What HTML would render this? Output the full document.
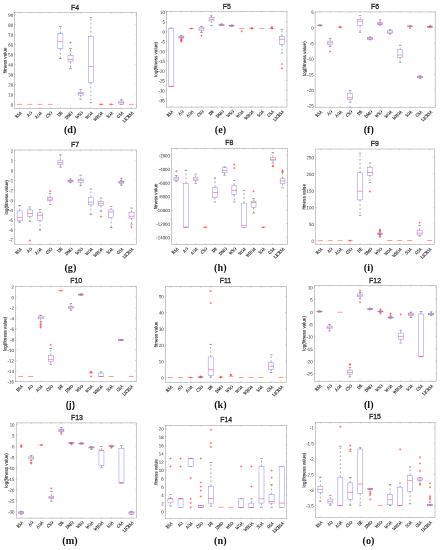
<!DOCTYPE html>
<html><head><meta charset="utf-8"><title>Boxplots F4-F15</title><style>
html,body{margin:0;padding:0;background:#fff;overflow:hidden;}
svg{display:block;}
.ax{fill:none;stroke:#a5a5a5;stroke-width:0.6;}
.tk{fill:none;stroke:#a5a5a5;stroke-width:0.5;}
.yt{font-family:"Liberation Sans",sans-serif;font-size:4.7px;text-anchor:end;fill:#262626;}
.xt{font-family:"Liberation Serif",serif;font-size:4.6px;text-anchor:end;fill:#222;stroke:#222;stroke-width:0.14px;}
.ti{font-family:"Liberation Sans",sans-serif;font-size:8.0px;text-anchor:middle;fill:#2a2a2a;stroke:#2a2a2a;stroke-width:0.32px;}
.yl{font-family:"Liberation Sans",sans-serif;font-size:4.6px;text-anchor:middle;fill:#222;stroke:#222;stroke-width:0.1px;}
.cap{font-family:"Liberation Serif",serif;font-size:10.2px;font-weight:bold;text-anchor:middle;fill:#111;}
.capsans{font-family:"Liberation Sans",sans-serif;font-size:9px;letter-spacing:0.4px;}
.bx{fill:none;stroke:#9595ff;stroke-width:0.55;}
.bxc{stroke:#8080ff;stroke-width:0.6;}
.md{fill:none;stroke:#ff5a50;stroke-width:0.6;}
.wk{fill:none;stroke:#5a5a5a;stroke-width:0.5;stroke-dasharray:2 2;}
.cp{fill:none;stroke:#4a4a4a;stroke-width:0.5;}
.ol{fill:none;stroke:#ff3030;stroke-width:0.5;}
</style></head>
<body><svg width="440" height="550" viewBox="0 0 440 550">
<rect x="14.6" y="12.5" width="122.00" height="95.90" class="ax"/>
<path d="M19.68 108.4v-1.1M19.68 12.5v1.1M29.85 108.4v-1.1M29.85 12.5v1.1M40.02 108.4v-1.1M40.02 12.5v1.1M50.18 108.4v-1.1M50.18 12.5v1.1M60.35 108.4v-1.1M60.35 12.5v1.1M70.52 108.4v-1.1M70.52 12.5v1.1M80.68 108.4v-1.1M80.68 12.5v1.1M90.85 108.4v-1.1M90.85 12.5v1.1M101.02 108.4v-1.1M101.02 12.5v1.1M111.18 108.4v-1.1M111.18 12.5v1.1M121.35 108.4v-1.1M121.35 12.5v1.1M131.52 108.4v-1.1M131.52 12.5v1.1M14.6 104.40h1.1M136.6 104.40h-1.1M14.6 94.42h1.1M136.6 94.42h-1.1M14.6 84.44h1.1M136.6 84.44h-1.1M14.6 74.47h1.1M136.6 74.47h-1.1M14.6 64.49h1.1M136.6 64.49h-1.1M14.6 54.51h1.1M136.6 54.51h-1.1M14.6 44.53h1.1M136.6 44.53h-1.1M14.6 34.56h1.1M136.6 34.56h-1.1M14.6 24.58h1.1M136.6 24.58h-1.1M14.6 14.60h1.1M136.6 14.60h-1.1" class="tk"/>
<g transform="translate(13.20,0) scale(0.93,1) rotate(0.05)">
<text y="106.50" class="yt">0</text>
<text y="96.52" class="yt">10</text>
<text y="86.54" class="yt">20</text>
<text y="76.57" class="yt">30</text>
<text y="66.59" class="yt">40</text>
<text y="56.61" class="yt">50</text>
<text y="46.63" class="yt">60</text>
<text y="36.66" class="yt">70</text>
<text y="26.68" class="yt">80</text>
<text y="16.70" class="yt">90</text>
</g>
<text transform="translate(22.18,113.10) rotate(-45) scale(0.83,1)" class="xt">RSA</text>
<text transform="translate(32.35,113.10) rotate(-45) scale(0.83,1)" class="xt">AO</text>
<text transform="translate(42.52,113.10) rotate(-45) scale(0.83,1)" class="xt">AOA</text>
<text transform="translate(52.68,113.10) rotate(-45) scale(0.83,1)" class="xt">CSO</text>
<text transform="translate(62.85,113.10) rotate(-45) scale(0.83,1)" class="xt">DE</text>
<text transform="translate(73.02,113.10) rotate(-45) scale(0.83,1)" class="xt">DMO</text>
<text transform="translate(83.18,113.10) rotate(-45) scale(0.83,1)" class="xt">WSO</text>
<text transform="translate(93.35,113.10) rotate(-45) scale(0.83,1)" class="xt">WOA</text>
<text transform="translate(103.52,113.10) rotate(-45) scale(0.83,1)" class="xt">WHOA</text>
<text transform="translate(113.68,113.10) rotate(-45) scale(0.83,1)" class="xt">SOA</text>
<text transform="translate(123.85,113.10) rotate(-45) scale(0.83,1)" class="xt">GSA</text>
<text transform="translate(134.02,113.10) rotate(-45) scale(0.83,1)" class="xt">LICRSA</text>
<path d="M17.14 104.40h5.08" class="md"/>
<path d="M27.31 104.40h5.08" class="md"/>
<path d="M37.48 104.40h5.08" class="md"/>
<path d="M47.64 104.40h5.08" class="md"/>
<path d="M60.35 33.56V26.57M60.35 48.52V58.50" class="wk"/>
<path d="M59.08 26.57h2.54M59.08 58.50h2.54" class="cp"/>
<rect x="57.81" y="33.56" width="5.08" height="14.97" class="bx"/>
<path d="M57.81 41.54h5.08" class="md"/>
<path d="M70.52 55.51V48.52M70.52 61.50V68.48" class="wk"/>
<path d="M69.25 48.52h2.54M69.25 68.48h2.54" class="cp"/>
<rect x="67.97" y="55.51" width="5.08" height="5.99" class="bx"/>
<path d="M67.97 59.50h5.08" class="md"/>
<path d="M69.42 42.54h2.2M70.52 41.44v2.2" class="ol"/>
<path d="M80.68 92.43V89.43M80.68 95.12V99.11" class="wk"/>
<path d="M79.41 89.43h2.54M79.41 99.11h2.54" class="cp"/>
<rect x="78.14" y="92.43" width="5.08" height="2.69" class="bx"/>
<path d="M78.14 93.62h5.08" class="md"/>
<path d="M90.85 36.55V17.59M90.85 82.45V102.70" class="wk"/>
<path d="M89.58 17.59h2.54M89.58 102.70h2.54" class="cp"/>
<rect x="88.31" y="36.55" width="5.08" height="45.90" class="bx"/>
<path d="M88.31 66.48h5.08" class="md"/>
<path d="M98.47 104.40h5.08" class="md"/>
<path d="M99.92 104.40h2.2M101.02 103.30v2.2" class="ol"/>
<path d="M108.64 104.40h5.08" class="md"/>
<path d="M110.08 104.40h2.2M111.18 103.30v2.2" class="ol"/>
<path d="M121.35 101.01V99.81M121.35 104.10V104.40" class="wk"/>
<path d="M120.08 99.81h2.54M120.08 104.40h2.54" class="cp"/>
<rect x="118.81" y="101.01" width="5.08" height="3.09" class="bx"/>
<path d="M118.81 102.50h5.08" class="md"/>
<path d="M128.97 104.40h5.08" class="md"/>
<text transform="translate(75.10,9.80) scale(0.87,1)" class="ti">F4</text>
<text transform="translate(6.50,60.45) rotate(-89.95)" class="yl">fitness value</text>
<text x="70.20" y="133.20" class="cap">(d)</text>
<rect x="166.25" y="11.5" width="120.75" height="95.60" class="ax"/>
<path d="M171.28 107.1v-1.1M171.28 11.5v1.1M181.34 107.1v-1.1M181.34 11.5v1.1M191.41 107.1v-1.1M191.41 11.5v1.1M201.47 107.1v-1.1M201.47 11.5v1.1M211.53 107.1v-1.1M211.53 11.5v1.1M221.59 107.1v-1.1M221.59 11.5v1.1M231.66 107.1v-1.1M231.66 11.5v1.1M241.72 107.1v-1.1M241.72 11.5v1.1M251.78 107.1v-1.1M251.78 11.5v1.1M261.84 107.1v-1.1M261.84 11.5v1.1M271.91 107.1v-1.1M271.91 11.5v1.1M281.97 107.1v-1.1M281.97 11.5v1.1M166.25 100.10h1.1M287.0 100.10h-1.1M166.25 90.30h1.1M287.0 90.30h-1.1M166.25 80.50h1.1M287.0 80.50h-1.1M166.25 70.70h1.1M287.0 70.70h-1.1M166.25 60.90h1.1M287.0 60.90h-1.1M166.25 51.10h1.1M287.0 51.10h-1.1M166.25 41.30h1.1M287.0 41.30h-1.1M166.25 31.50h1.1M287.0 31.50h-1.1M166.25 21.70h1.1M287.0 21.70h-1.1M166.25 11.90h1.1M287.0 11.90h-1.1" class="tk"/>
<g transform="translate(164.85,0) scale(0.93,1) rotate(0.05)">
<text y="102.20" class="yt">-35</text>
<text y="92.40" class="yt">-30</text>
<text y="82.60" class="yt">-25</text>
<text y="72.80" class="yt">-20</text>
<text y="63.00" class="yt">-15</text>
<text y="53.20" class="yt">-10</text>
<text y="43.40" class="yt">-5</text>
<text y="33.60" class="yt">0</text>
<text y="23.80" class="yt">5</text>
<text y="14.00" class="yt">10</text>
</g>
<text transform="translate(173.78,111.80) rotate(-45) scale(0.83,1)" class="xt">RSA</text>
<text transform="translate(183.84,111.80) rotate(-45) scale(0.83,1)" class="xt">AO</text>
<text transform="translate(193.91,111.80) rotate(-45) scale(0.83,1)" class="xt">AOA</text>
<text transform="translate(203.97,111.80) rotate(-45) scale(0.83,1)" class="xt">CSO</text>
<text transform="translate(214.03,111.80) rotate(-45) scale(0.83,1)" class="xt">DE</text>
<text transform="translate(224.09,111.80) rotate(-45) scale(0.83,1)" class="xt">DMO</text>
<text transform="translate(234.16,111.80) rotate(-45) scale(0.83,1)" class="xt">WSO</text>
<text transform="translate(244.22,111.80) rotate(-45) scale(0.83,1)" class="xt">WOA</text>
<text transform="translate(254.28,111.80) rotate(-45) scale(0.83,1)" class="xt">WHOA</text>
<text transform="translate(264.34,111.80) rotate(-45) scale(0.83,1)" class="xt">SOA</text>
<text transform="translate(274.41,111.80) rotate(-45) scale(0.83,1)" class="xt">GSA</text>
<text transform="translate(284.47,111.80) rotate(-45) scale(0.83,1)" class="xt">LICRSA</text>
<path d="M170.02 28.17h2.52M170.02 86.38h2.52" class="cp"/>
<rect x="168.77" y="28.17" width="5.03" height="58.21" class="bx"/>
<path d="M168.77 86.38h5.03" class="md"/>
<path d="M181.34 36.20V35.42" class="wk"/>
<path d="M180.09 35.42h2.52M180.09 37.97h2.52" class="cp"/>
<rect x="178.83" y="36.20" width="5.03" height="1.76" class="bx bxc"/>
<path d="M178.83 37.18h5.03" class="md"/>
<path d="M180.24 39.14h2.2M181.34 38.04v2.2M180.24 39.93h2.2M181.34 38.83v2.2M180.24 40.71h2.2M181.34 39.61v2.2M180.24 41.50h2.2M181.34 40.40v2.2" class="ol"/>
<path d="M188.89 28.56h5.03" class="md"/>
<path d="M190.31 28.56h2.2M191.41 27.46v2.2" class="ol"/>
<path d="M201.47 27.19V26.60M201.47 30.62V32.48" class="wk"/>
<path d="M200.21 26.60h2.52M200.21 32.48h2.52" class="cp"/>
<rect x="198.95" y="27.19" width="5.03" height="3.43" class="bx"/>
<path d="M198.95 28.95h5.03" class="md"/>
<path d="M200.37 35.62h2.2M201.47 34.52v2.2" class="ol"/>
<path d="M211.53 17.58V15.82M211.53 20.92V25.62" class="wk"/>
<path d="M210.27 15.82h2.52M210.27 25.62h2.52" class="cp"/>
<rect x="209.02" y="17.58" width="5.03" height="3.33" class="bx"/>
<path d="M209.02 19.35h5.03" class="md"/>
<path d="M221.59 24.25V23.95M221.59 25.33V25.62" class="wk"/>
<path d="M220.34 23.95h2.52M220.34 25.62h2.52" class="cp"/>
<rect x="219.08" y="24.25" width="5.03" height="1.08" class="bx bxc"/>
<path d="M219.08 24.84h5.03" class="md"/>
<path d="M231.66 25.23V24.93M231.66 26.01V26.31" class="wk"/>
<path d="M230.40 24.93h2.52M230.40 26.31h2.52" class="cp"/>
<rect x="229.14" y="25.23" width="5.03" height="0.78" class="bx bxc"/>
<path d="M229.14 25.62h5.03" class="md"/>
<path d="M239.20 28.56h5.03" class="md"/>
<path d="M240.62 31.30h2.2M241.72 30.20v2.2" class="ol"/>
<path d="M249.27 28.56h5.03" class="md"/>
<path d="M250.68 28.56h2.2M251.78 27.46v2.2M250.68 27.97h2.2M251.78 26.87v2.2" class="ol"/>
<path d="M259.33 28.56h5.03" class="md"/>
<path d="M269.39 28.56h5.03" class="md"/>
<path d="M270.81 28.36h2.2M271.91 27.26v2.2M270.81 27.78h2.2M271.91 26.68v2.2M270.81 27.19h2.2M271.91 26.09v2.2" class="ol"/>
<path d="M281.97 36.50V29.34M281.97 44.63V53.06" class="wk"/>
<path d="M280.71 29.34h2.52M280.71 53.06h2.52" class="cp"/>
<rect x="279.45" y="36.50" width="5.03" height="8.13" class="bx"/>
<path d="M279.45 39.34h5.03" class="md"/>
<path d="M280.87 64.04h2.2M281.97 62.94v2.2M280.87 68.35h2.2M281.97 67.25v2.2" class="ol"/>
<text transform="translate(226.70,8.70) scale(0.87,1)" class="ti">F5</text>
<text transform="translate(157.20,59.30) rotate(-89.95)" class="yl">log(fitness value)</text>
<text x="220.45" y="133.20" class="cap">(e)</text>
<rect x="315.1" y="11.9" width="120.10" height="95.35" class="ax"/>
<path d="M320.10 107.25v-1.1M320.10 11.9v1.1M330.11 107.25v-1.1M330.11 11.9v1.1M340.12 107.25v-1.1M340.12 11.9v1.1M350.13 107.25v-1.1M350.13 11.9v1.1M360.14 107.25v-1.1M360.14 11.9v1.1M370.15 107.25v-1.1M370.15 11.9v1.1M380.15 107.25v-1.1M380.15 11.9v1.1M390.16 107.25v-1.1M390.16 11.9v1.1M400.17 107.25v-1.1M400.17 11.9v1.1M410.18 107.25v-1.1M410.18 11.9v1.1M420.19 107.25v-1.1M420.19 11.9v1.1M430.20 107.25v-1.1M430.20 11.9v1.1M315.1 105.50h1.1M435.2 105.50h-1.1M315.1 89.90h1.1M435.2 89.90h-1.1M315.1 74.30h1.1M435.2 74.30h-1.1M315.1 58.70h1.1M435.2 58.70h-1.1M315.1 43.10h1.1M435.2 43.10h-1.1M315.1 27.50h1.1M435.2 27.50h-1.1M315.1 11.90h1.1M435.2 11.90h-1.1" class="tk"/>
<g transform="translate(313.70,0) scale(0.93,1) rotate(0.05)">
<text y="107.60" class="yt">-25</text>
<text y="92.00" class="yt">-20</text>
<text y="76.40" class="yt">-15</text>
<text y="60.80" class="yt">-10</text>
<text y="45.20" class="yt">-5</text>
<text y="29.60" class="yt">0</text>
<text y="14.00" class="yt">5</text>
</g>
<text transform="translate(322.60,111.95) rotate(-45) scale(0.83,1)" class="xt">RSA</text>
<text transform="translate(332.61,111.95) rotate(-45) scale(0.83,1)" class="xt">AO</text>
<text transform="translate(342.62,111.95) rotate(-45) scale(0.83,1)" class="xt">AOA</text>
<text transform="translate(352.63,111.95) rotate(-45) scale(0.83,1)" class="xt">CSO</text>
<text transform="translate(362.64,111.95) rotate(-45) scale(0.83,1)" class="xt">DE</text>
<text transform="translate(372.65,111.95) rotate(-45) scale(0.83,1)" class="xt">DMO</text>
<text transform="translate(382.65,111.95) rotate(-45) scale(0.83,1)" class="xt">WSO</text>
<text transform="translate(392.66,111.95) rotate(-45) scale(0.83,1)" class="xt">WOA</text>
<text transform="translate(402.67,111.95) rotate(-45) scale(0.83,1)" class="xt">WHOA</text>
<text transform="translate(412.68,111.95) rotate(-45) scale(0.83,1)" class="xt">SOA</text>
<text transform="translate(422.69,111.95) rotate(-45) scale(0.83,1)" class="xt">GSA</text>
<text transform="translate(432.70,111.95) rotate(-45) scale(0.83,1)" class="xt">LICRSA</text>
<path d="M320.10 25.13V24.85M320.10 25.69V25.94" class="wk"/>
<path d="M318.85 24.85h2.50M318.85 25.94h2.50" class="cp"/>
<rect x="317.60" y="25.13" width="5.00" height="0.56" class="bx bxc"/>
<path d="M317.60 25.38h5.00" class="md"/>
<path d="M330.11 41.23V38.42M330.11 44.35V46.53" class="wk"/>
<path d="M328.86 38.42h2.50M328.86 46.53h2.50" class="cp"/>
<rect x="327.61" y="41.23" width="5.00" height="3.12" class="bx"/>
<path d="M327.61 42.79h5.00" class="md"/>
<path d="M329.01 51.52h2.2M330.11 50.42v2.2" class="ol"/>
<path d="M337.62 27.19h5.00" class="md"/>
<path d="M339.02 27.19h2.2M340.12 26.09v2.2M339.02 27.03h2.2M340.12 25.93v2.2" class="ol"/>
<path d="M350.13 93.33V90.52M350.13 99.26V102.38" class="wk"/>
<path d="M348.88 90.52h2.50M348.88 102.38h2.50" class="cp"/>
<rect x="347.63" y="93.33" width="5.00" height="5.93" class="bx"/>
<path d="M347.63 97.70h5.00" class="md"/>
<path d="M360.14 19.39V15.64M360.14 25.41V32.18" class="wk"/>
<path d="M358.89 15.64h2.50M358.89 32.18h2.50" class="cp"/>
<rect x="357.64" y="19.39" width="5.00" height="6.02" class="bx"/>
<path d="M357.64 21.26h5.00" class="md"/>
<path d="M370.15 37.33V36.86M370.15 39.36V39.82" class="wk"/>
<path d="M368.89 36.86h2.50M368.89 39.82h2.50" class="cp"/>
<rect x="367.64" y="37.33" width="5.00" height="2.03" class="bx bxc"/>
<path d="M367.64 38.42h5.00" class="md"/>
<path d="M380.15 22.82V22.35M380.15 24.69V25.16" class="wk"/>
<path d="M378.90 22.35h2.50M378.90 25.16h2.50" class="cp"/>
<rect x="377.65" y="22.82" width="5.00" height="1.87" class="bx bxc"/>
<path d="M377.65 23.76h5.00" class="md"/>
<path d="M379.05 20.01h2.2M380.15 18.91v2.2" class="ol"/>
<path d="M390.16 30.31V29.68M390.16 33.43V34.05" class="wk"/>
<path d="M388.91 29.68h2.50M388.91 34.05h2.50" class="cp"/>
<rect x="387.66" y="30.31" width="5.00" height="3.12" class="bx"/>
<path d="M387.66 32.18h5.00" class="md"/>
<path d="M400.17 49.65V45.28M400.17 57.45V62.13" class="wk"/>
<path d="M398.92 45.28h2.50M398.92 62.13h2.50" class="cp"/>
<rect x="397.67" y="49.65" width="5.00" height="7.80" class="bx"/>
<path d="M397.67 54.96h5.00" class="md"/>
<path d="M410.18 26.03V25.78M410.18 26.47V26.72" class="wk"/>
<path d="M408.93 25.78h2.50M408.93 26.72h2.50" class="cp"/>
<rect x="407.68" y="26.03" width="5.00" height="0.44" class="bx bxc"/>
<path d="M407.68 26.25h5.00" class="md"/>
<path d="M409.08 28.12h2.2M410.18 27.02v2.2" class="ol"/>
<path d="M420.19 76.48V75.86M420.19 77.73V78.36" class="wk"/>
<path d="M418.94 75.86h2.50M418.94 78.36h2.50" class="cp"/>
<rect x="417.69" y="76.48" width="5.00" height="1.25" class="bx bxc"/>
<path d="M417.69 77.11h5.00" class="md"/>
<path d="M430.20 26.66V26.41M430.20 27.13V27.34" class="wk"/>
<path d="M428.94 26.41h2.50M428.94 27.34h2.50" class="cp"/>
<rect x="427.69" y="26.66" width="5.00" height="0.47" class="bx bxc"/>
<path d="M427.69 26.88h5.00" class="md"/>
<path d="M429.10 25.94h2.2M430.20 24.84v2.2" class="ol"/>
<text transform="translate(375.00,8.90) scale(0.87,1)" class="ti">F6</text>
<text transform="translate(306.00,58.70) rotate(-89.95)" class="yl">log(fitness value)</text>
<text x="368.75" y="133.20" class="cap">(f)</text>
<rect x="14.6" y="150.0" width="122.00" height="94.50" class="ax"/>
<path d="M19.68 244.5v-1.1M19.68 150.0v1.1M29.85 244.5v-1.1M29.85 150.0v1.1M40.02 244.5v-1.1M40.02 150.0v1.1M50.18 244.5v-1.1M50.18 150.0v1.1M60.35 244.5v-1.1M60.35 150.0v1.1M70.52 244.5v-1.1M70.52 150.0v1.1M80.68 244.5v-1.1M80.68 150.0v1.1M90.85 244.5v-1.1M90.85 150.0v1.1M101.02 244.5v-1.1M101.02 150.0v1.1M111.18 244.5v-1.1M111.18 150.0v1.1M121.35 244.5v-1.1M121.35 150.0v1.1M131.52 244.5v-1.1M131.52 150.0v1.1M14.6 239.60h1.1M136.6 239.60h-1.1M14.6 229.71h1.1M136.6 229.71h-1.1M14.6 219.83h1.1M136.6 219.83h-1.1M14.6 209.94h1.1M136.6 209.94h-1.1M14.6 200.06h1.1M136.6 200.06h-1.1M14.6 190.17h1.1M136.6 190.17h-1.1M14.6 180.29h1.1M136.6 180.29h-1.1M14.6 170.40h1.1M136.6 170.40h-1.1M14.6 160.51h1.1M136.6 160.51h-1.1M14.6 150.63h1.1M136.6 150.63h-1.1" class="tk"/>
<g transform="translate(13.20,0) scale(0.93,1) rotate(0.05)">
<text y="241.70" class="yt">-7</text>
<text y="231.81" class="yt">-6</text>
<text y="221.93" class="yt">-5</text>
<text y="212.04" class="yt">-4</text>
<text y="202.16" class="yt">-3</text>
<text y="192.27" class="yt">-2</text>
<text y="182.39" class="yt">-1</text>
<text y="172.50" class="yt">0</text>
<text y="162.61" class="yt">1</text>
<text y="152.73" class="yt">2</text>
</g>
<text transform="translate(22.18,249.20) rotate(-45) scale(0.83,1)" class="xt">RSA</text>
<text transform="translate(32.35,249.20) rotate(-45) scale(0.83,1)" class="xt">AO</text>
<text transform="translate(42.52,249.20) rotate(-45) scale(0.83,1)" class="xt">AOA</text>
<text transform="translate(52.68,249.20) rotate(-45) scale(0.83,1)" class="xt">CSO</text>
<text transform="translate(62.85,249.20) rotate(-45) scale(0.83,1)" class="xt">DE</text>
<text transform="translate(73.02,249.20) rotate(-45) scale(0.83,1)" class="xt">DMO</text>
<text transform="translate(83.18,249.20) rotate(-45) scale(0.83,1)" class="xt">WSO</text>
<text transform="translate(93.35,249.20) rotate(-45) scale(0.83,1)" class="xt">WOA</text>
<text transform="translate(103.52,249.20) rotate(-45) scale(0.83,1)" class="xt">WHOA</text>
<text transform="translate(113.68,249.20) rotate(-45) scale(0.83,1)" class="xt">SOA</text>
<text transform="translate(123.85,249.20) rotate(-45) scale(0.83,1)" class="xt">GSA</text>
<text transform="translate(134.02,249.20) rotate(-45) scale(0.83,1)" class="xt">LICRSA</text>
<path d="M19.68 210.93V205.49M19.68 220.82V222.30" class="wk"/>
<path d="M18.41 205.49h2.54M18.41 222.30h2.54" class="cp"/>
<rect x="17.14" y="210.93" width="5.08" height="9.89" class="bx"/>
<path d="M17.14 217.36h5.08" class="md"/>
<path d="M29.85 209.94V206.98M29.85 216.37V221.31" class="wk"/>
<path d="M28.58 206.98h2.54M28.58 221.31h2.54" class="cp"/>
<rect x="27.31" y="209.94" width="5.08" height="6.43" class="bx"/>
<path d="M27.31 213.40h5.08" class="md"/>
<path d="M28.75 240.59h2.2M29.85 239.49v2.2" class="ol"/>
<path d="M40.02 212.91V209.45M40.02 220.32V230.21" class="wk"/>
<path d="M38.75 209.45h2.54M38.75 230.21h2.54" class="cp"/>
<rect x="37.48" y="212.91" width="5.08" height="7.41" class="bx"/>
<path d="M37.48 215.38h5.08" class="md"/>
<path d="M50.18 197.59V193.63M50.18 200.35V204.51" class="wk"/>
<path d="M48.91 193.63h2.54M48.91 204.51h2.54" class="cp"/>
<rect x="47.64" y="197.59" width="5.08" height="2.77" class="bx"/>
<path d="M47.64 199.07h5.08" class="md"/>
<path d="M49.08 191.16h2.2M50.18 190.06v2.2" class="ol"/>
<path d="M60.35 160.22V154.78M60.35 164.77V167.24" class="wk"/>
<path d="M59.08 154.78h2.54M59.08 167.24h2.54" class="cp"/>
<rect x="57.81" y="160.22" width="5.08" height="4.55" class="bx"/>
<path d="M57.81 162.49h5.08" class="md"/>
<path d="M70.52 180.29V179.00M70.52 181.87V182.76" class="wk"/>
<path d="M69.25 179.00h2.54M69.25 182.76h2.54" class="cp"/>
<rect x="67.97" y="180.29" width="5.08" height="1.58" class="bx bxc"/>
<path d="M67.97 180.98h5.08" class="md"/>
<path d="M80.68 179.40V175.24M80.68 182.76V185.62" class="wk"/>
<path d="M79.41 175.24h2.54M79.41 185.62h2.54" class="cp"/>
<rect x="78.14" y="179.40" width="5.08" height="3.36" class="bx"/>
<path d="M78.14 180.58h5.08" class="md"/>
<path d="M90.85 197.29V189.08M90.85 204.80V214.39" class="wk"/>
<path d="M89.58 189.08h2.54M89.58 214.39h2.54" class="cp"/>
<rect x="88.31" y="197.29" width="5.08" height="7.51" class="bx"/>
<path d="M88.31 202.23h5.08" class="md"/>
<path d="M101.02 201.54V198.08M101.02 205.59V211.23" class="wk"/>
<path d="M99.75 198.08h2.54M99.75 211.23h2.54" class="cp"/>
<rect x="98.47" y="201.54" width="5.08" height="4.05" class="bx"/>
<path d="M98.47 203.42h5.08" class="md"/>
<path d="M99.92 216.47h2.2M101.02 215.37v2.2" class="ol"/>
<path d="M111.18 209.94V206.48M111.18 217.46V227.54" class="wk"/>
<path d="M109.91 206.48h2.54M109.91 227.54h2.54" class="cp"/>
<rect x="108.64" y="209.94" width="5.08" height="7.51" class="bx"/>
<path d="M108.64 212.12h5.08" class="md"/>
<path d="M121.35 181.47V180.29M121.35 183.15V185.23" class="wk"/>
<path d="M120.08 180.29h2.54M120.08 185.23h2.54" class="cp"/>
<rect x="118.81" y="181.47" width="5.08" height="1.68" class="bx bxc"/>
<path d="M118.81 182.26h5.08" class="md"/>
<path d="M120.25 178.51h2.2M121.35 177.41v2.2" class="ol"/>
<path d="M131.52 212.22V208.06M131.52 218.15V224.97" class="wk"/>
<path d="M130.25 208.06h2.54M130.25 224.97h2.54" class="cp"/>
<rect x="128.97" y="212.22" width="5.08" height="5.93" class="bx"/>
<path d="M128.97 216.27h5.08" class="md"/>
<path d="M130.42 227.24h2.2M131.52 226.14v2.2" class="ol"/>
<text transform="translate(75.10,146.50) scale(0.87,1)" class="ti">F7</text>
<text transform="translate(7.90,197.25) rotate(-89.95)" class="yl">log(fitness value)</text>
<text x="70.40" y="270.60" class="cap">(g)</text>
<rect x="171.5" y="148.5" width="115.90" height="95.90" class="ax"/>
<path d="M176.33 244.4v-1.1M176.33 148.5v1.1M185.99 244.4v-1.1M185.99 148.5v1.1M195.65 244.4v-1.1M195.65 148.5v1.1M205.30 244.4v-1.1M205.30 148.5v1.1M214.96 244.4v-1.1M214.96 148.5v1.1M224.62 244.4v-1.1M224.62 148.5v1.1M234.28 244.4v-1.1M234.28 148.5v1.1M243.94 244.4v-1.1M243.94 148.5v1.1M253.60 244.4v-1.1M253.60 148.5v1.1M263.25 244.4v-1.1M263.25 148.5v1.1M272.91 244.4v-1.1M272.91 148.5v1.1M282.57 244.4v-1.1M282.57 148.5v1.1M171.5 237.25h1.1M287.4 237.25h-1.1M171.5 223.58h1.1M287.4 223.58h-1.1M171.5 209.92h1.1M287.4 209.92h-1.1M171.5 196.25h1.1M287.4 196.25h-1.1M171.5 182.58h1.1M287.4 182.58h-1.1M171.5 168.92h1.1M287.4 168.92h-1.1M171.5 155.25h1.1M287.4 155.25h-1.1" class="tk"/>
<g transform="translate(170.10,0) scale(0.93,1) rotate(0.05)">
<text y="239.35" class="yt">-14000</text>
<text y="225.68" class="yt">-12000</text>
<text y="212.02" class="yt">-10000</text>
<text y="198.35" class="yt">-8000</text>
<text y="184.68" class="yt">-6000</text>
<text y="171.02" class="yt">-4000</text>
<text y="157.35" class="yt">-2000</text>
</g>
<text transform="translate(178.83,249.10) rotate(-45) scale(0.83,1)" class="xt">RSA</text>
<text transform="translate(188.49,249.10) rotate(-45) scale(0.83,1)" class="xt">AO</text>
<text transform="translate(198.15,249.10) rotate(-45) scale(0.83,1)" class="xt">AOA</text>
<text transform="translate(207.80,249.10) rotate(-45) scale(0.83,1)" class="xt">CSO</text>
<text transform="translate(217.46,249.10) rotate(-45) scale(0.83,1)" class="xt">DE</text>
<text transform="translate(227.12,249.10) rotate(-45) scale(0.83,1)" class="xt">DMO</text>
<text transform="translate(236.78,249.10) rotate(-45) scale(0.83,1)" class="xt">WSO</text>
<text transform="translate(246.44,249.10) rotate(-45) scale(0.83,1)" class="xt">WOA</text>
<text transform="translate(256.10,249.10) rotate(-45) scale(0.83,1)" class="xt">WHOA</text>
<text transform="translate(265.75,249.10) rotate(-45) scale(0.83,1)" class="xt">SOA</text>
<text transform="translate(275.41,249.10) rotate(-45) scale(0.83,1)" class="xt">GSA</text>
<text transform="translate(285.07,249.10) rotate(-45) scale(0.83,1)" class="xt">LICRSA</text>
<path d="M176.33 177.25V175.60M176.33 180.60V181.30" class="wk"/>
<path d="M175.12 175.60h2.41M175.12 181.30h2.41" class="cp"/>
<rect x="173.91" y="177.25" width="4.83" height="3.35" class="bx"/>
<path d="M173.91 179.00h4.83" class="md"/>
<path d="M175.23 171.25h2.2M176.33 170.15v2.2" class="ol"/>
<path d="M185.99 183.50V170.25" class="wk"/>
<path d="M184.78 170.25h2.41M184.78 227.25h2.41" class="cp"/>
<rect x="183.57" y="183.50" width="4.83" height="43.75" class="bx"/>
<path d="M183.57 227.25h4.83" class="md"/>
<path d="M195.65 177.25V174.00M195.65 180.60V183.40" class="wk"/>
<path d="M194.44 174.00h2.41M194.44 183.40h2.41" class="cp"/>
<rect x="193.23" y="177.25" width="4.83" height="3.35" class="bx"/>
<path d="M193.23 179.10h4.83" class="md"/>
<path d="M202.89 227.25h4.83" class="md"/>
<path d="M204.20 227.25h2.2M205.30 226.15v2.2" class="ol"/>
<path d="M214.96 187.25V178.10M214.96 197.50V201.90" class="wk"/>
<path d="M213.76 178.10h2.41M213.76 201.90h2.41" class="cp"/>
<rect x="212.55" y="187.25" width="4.83" height="10.25" class="bx"/>
<path d="M212.55 192.50h4.83" class="md"/>
<path d="M224.62 167.75V166.90M224.62 172.75V175.25" class="wk"/>
<path d="M223.41 166.90h2.41M223.41 175.25h2.41" class="cp"/>
<rect x="222.21" y="167.75" width="4.83" height="5.00" class="bx"/>
<path d="M222.21 170.40h4.83" class="md"/>
<path d="M234.28 185.25V180.40M234.28 194.60V202.10" class="wk"/>
<path d="M233.07 180.40h2.41M233.07 202.10h2.41" class="cp"/>
<rect x="231.86" y="185.25" width="4.83" height="9.35" class="bx"/>
<path d="M231.86 190.40h4.83" class="md"/>
<path d="M233.18 164.60h2.2M234.28 163.50v2.2M233.18 168.10h2.2M234.28 167.00v2.2" class="ol"/>
<path d="M243.94 203.10V190.40" class="wk"/>
<path d="M242.73 190.40h2.41M242.73 227.50h2.41" class="cp"/>
<rect x="241.52" y="203.10" width="4.83" height="24.40" class="bx"/>
<path d="M241.52 225.60h4.83" class="md"/>
<path d="M253.60 201.25V198.50M253.60 207.50V213.10" class="wk"/>
<path d="M252.39 198.50h2.41M252.39 213.10h2.41" class="cp"/>
<rect x="251.18" y="201.25" width="4.83" height="6.25" class="bx"/>
<path d="M251.18 202.50h4.83" class="md"/>
<path d="M252.50 191.25h2.2M253.60 190.15v2.2" class="ol"/>
<path d="M260.84 227.25h4.83" class="md"/>
<path d="M262.15 227.25h2.2M263.25 226.15v2.2" class="ol"/>
<path d="M272.91 157.50V152.50M272.91 160.60V163.10" class="wk"/>
<path d="M271.71 152.50h2.41M271.71 163.10h2.41" class="cp"/>
<rect x="270.50" y="157.50" width="4.83" height="3.10" class="bx"/>
<path d="M270.50 159.40h4.83" class="md"/>
<path d="M271.81 165.60h2.2M272.91 164.50v2.2M271.81 166.50h2.2M272.91 165.40v2.2" class="ol"/>
<path d="M282.57 178.75V172.25M282.57 183.75V187.75" class="wk"/>
<path d="M281.36 172.25h2.41M281.36 187.75h2.41" class="cp"/>
<rect x="280.16" y="178.75" width="4.83" height="5.00" class="bx"/>
<path d="M280.16 181.00h4.83" class="md"/>
<path d="M281.47 170.40h2.2M282.57 169.30v2.2M281.47 171.60h2.2M282.57 170.50v2.2" class="ol"/>
<text transform="translate(229.25,145.20) scale(0.87,1)" class="ti">F8</text>
<text transform="translate(157.30,196.45) rotate(-89.95)" class="yl">fitness value</text>
<text x="220.35" y="270.60" class="cap">(h)</text>
<rect x="315.4" y="149.0" width="119.10" height="95.60" class="ax"/>
<path d="M320.36 244.6v-1.1M320.36 149.0v1.1M330.29 244.6v-1.1M330.29 149.0v1.1M340.21 244.6v-1.1M340.21 149.0v1.1M350.14 244.6v-1.1M350.14 149.0v1.1M360.06 244.6v-1.1M360.06 149.0v1.1M369.99 244.6v-1.1M369.99 149.0v1.1M379.91 244.6v-1.1M379.91 149.0v1.1M389.84 244.6v-1.1M389.84 149.0v1.1M399.76 244.6v-1.1M399.76 149.0v1.1M409.69 244.6v-1.1M409.69 149.0v1.1M419.61 244.6v-1.1M419.61 149.0v1.1M429.54 244.6v-1.1M429.54 149.0v1.1M315.4 240.60h1.1M434.5 240.60h-1.1M315.4 223.93h1.1M434.5 223.93h-1.1M315.4 207.26h1.1M434.5 207.26h-1.1M315.4 190.59h1.1M434.5 190.59h-1.1M315.4 173.92h1.1M434.5 173.92h-1.1M315.4 157.25h1.1M434.5 157.25h-1.1" class="tk"/>
<g transform="translate(314.00,0) scale(0.93,1) rotate(0.05)">
<text y="242.70" class="yt">0</text>
<text y="226.03" class="yt">50</text>
<text y="209.36" class="yt">100</text>
<text y="192.69" class="yt">150</text>
<text y="176.02" class="yt">200</text>
<text y="159.35" class="yt">250</text>
</g>
<text transform="translate(322.86,249.30) rotate(-45) scale(0.83,1)" class="xt">RSA</text>
<text transform="translate(332.79,249.30) rotate(-45) scale(0.83,1)" class="xt">AO</text>
<text transform="translate(342.71,249.30) rotate(-45) scale(0.83,1)" class="xt">AOA</text>
<text transform="translate(352.64,249.30) rotate(-45) scale(0.83,1)" class="xt">CSO</text>
<text transform="translate(362.56,249.30) rotate(-45) scale(0.83,1)" class="xt">DE</text>
<text transform="translate(372.49,249.30) rotate(-45) scale(0.83,1)" class="xt">DMO</text>
<text transform="translate(382.41,249.30) rotate(-45) scale(0.83,1)" class="xt">WSO</text>
<text transform="translate(392.34,249.30) rotate(-45) scale(0.83,1)" class="xt">WOA</text>
<text transform="translate(402.26,249.30) rotate(-45) scale(0.83,1)" class="xt">WHOA</text>
<text transform="translate(412.19,249.30) rotate(-45) scale(0.83,1)" class="xt">SOA</text>
<text transform="translate(422.11,249.30) rotate(-45) scale(0.83,1)" class="xt">GSA</text>
<text transform="translate(432.04,249.30) rotate(-45) scale(0.83,1)" class="xt">LICRSA</text>
<path d="M317.88 240.60h4.96" class="md"/>
<path d="M327.81 240.60h4.96" class="md"/>
<path d="M337.73 240.60h4.96" class="md"/>
<path d="M347.66 240.60h4.96" class="md"/>
<path d="M349.04 240.60h2.2M350.14 239.50v2.2" class="ol"/>
<path d="M360.06 172.75V153.10M360.06 199.90V215.40" class="wk"/>
<path d="M358.82 153.10h2.48M358.82 215.40h2.48" class="cp"/>
<rect x="357.58" y="172.75" width="4.96" height="27.15" class="bx"/>
<path d="M357.58 191.25h4.96" class="md"/>
<path d="M369.99 167.25V163.10M369.99 175.40V182.50" class="wk"/>
<path d="M368.75 163.10h2.48M368.75 182.50h2.48" class="cp"/>
<rect x="367.51" y="167.25" width="4.96" height="8.15" class="bx"/>
<path d="M367.51 172.50h4.96" class="md"/>
<path d="M368.89 191.50h2.2M369.99 190.40v2.2" class="ol"/>
<path d="M379.91 233.20V232.80M379.91 234.30V234.70" class="wk"/>
<path d="M378.67 232.80h2.48M378.67 234.70h2.48" class="cp"/>
<rect x="377.43" y="233.20" width="4.96" height="1.10" class="bx bxc"/>
<path d="M377.43 233.75h4.96" class="md"/>
<path d="M378.81 229.60h2.2M379.91 228.50v2.2M378.81 230.60h2.2M379.91 229.50v2.2M378.81 231.60h2.2M379.91 230.50v2.2M378.81 235.90h2.2M379.91 234.80v2.2M378.81 236.90h2.2M379.91 235.80v2.2" class="ol"/>
<path d="M387.36 240.50h4.96" class="md"/>
<path d="M397.28 240.50h4.96" class="md"/>
<path d="M407.21 240.50h4.96" class="md"/>
<path d="M419.61 230.25V225.40M419.61 235.00V236.00" class="wk"/>
<path d="M418.37 225.40h2.48M418.37 236.00h2.48" class="cp"/>
<rect x="417.13" y="230.25" width="4.96" height="4.75" class="bx"/>
<path d="M417.13 233.10h4.96" class="md"/>
<path d="M418.51 222.75h2.2M419.61 221.65v2.2" class="ol"/>
<path d="M427.06 240.50h4.96" class="md"/>
<text transform="translate(374.70,145.85) scale(0.87,1)" class="ti">F9</text>
<text transform="translate(305.50,196.80) rotate(-89.95)" class="yl">fitness value</text>
<text x="368.60" y="270.60" class="cap">(i)</text>
<rect x="15.6" y="286.25" width="120.65" height="95.50" class="ax"/>
<path d="M20.63 381.75v-1.1M20.63 286.25v1.1M30.68 381.75v-1.1M30.68 286.25v1.1M40.74 381.75v-1.1M40.74 286.25v1.1M50.79 381.75v-1.1M50.79 286.25v1.1M60.84 381.75v-1.1M60.84 286.25v1.1M70.90 381.75v-1.1M70.90 286.25v1.1M80.95 381.75v-1.1M80.95 286.25v1.1M91.01 381.75v-1.1M91.01 286.25v1.1M101.06 381.75v-1.1M101.06 286.25v1.1M111.11 381.75v-1.1M111.11 286.25v1.1M121.17 381.75v-1.1M121.17 286.25v1.1M131.22 381.75v-1.1M131.22 286.25v1.1M15.6 381.50h1.1M136.25 381.50h-1.1M15.6 370.96h1.1M136.25 370.96h-1.1M15.6 360.41h1.1M136.25 360.41h-1.1M15.6 349.87h1.1M136.25 349.87h-1.1M15.6 339.32h1.1M136.25 339.32h-1.1M15.6 328.78h1.1M136.25 328.78h-1.1M15.6 318.23h1.1M136.25 318.23h-1.1M15.6 307.69h1.1M136.25 307.69h-1.1M15.6 297.14h1.1M136.25 297.14h-1.1M15.6 286.60h1.1M136.25 286.60h-1.1" class="tk"/>
<g transform="translate(14.20,0) scale(0.93,1) rotate(0.05)">
<text y="383.60" class="yt">-16</text>
<text y="373.06" class="yt">-14</text>
<text y="362.51" class="yt">-12</text>
<text y="351.97" class="yt">-10</text>
<text y="341.42" class="yt">-8</text>
<text y="330.88" class="yt">-6</text>
<text y="320.33" class="yt">-4</text>
<text y="309.79" class="yt">-2</text>
<text y="299.24" class="yt">0</text>
<text y="288.70" class="yt">2</text>
</g>
<text transform="translate(23.13,386.45) rotate(-45) scale(0.83,1)" class="xt">RSA</text>
<text transform="translate(33.18,386.45) rotate(-45) scale(0.83,1)" class="xt">AO</text>
<text transform="translate(43.24,386.45) rotate(-45) scale(0.83,1)" class="xt">AOA</text>
<text transform="translate(53.29,386.45) rotate(-45) scale(0.83,1)" class="xt">CSO</text>
<text transform="translate(63.34,386.45) rotate(-45) scale(0.83,1)" class="xt">DE</text>
<text transform="translate(73.40,386.45) rotate(-45) scale(0.83,1)" class="xt">DMO</text>
<text transform="translate(83.45,386.45) rotate(-45) scale(0.83,1)" class="xt">WSO</text>
<text transform="translate(93.51,386.45) rotate(-45) scale(0.83,1)" class="xt">WOA</text>
<text transform="translate(103.56,386.45) rotate(-45) scale(0.83,1)" class="xt">WHOA</text>
<text transform="translate(113.61,386.45) rotate(-45) scale(0.83,1)" class="xt">SOA</text>
<text transform="translate(123.67,386.45) rotate(-45) scale(0.83,1)" class="xt">GSA</text>
<text transform="translate(133.72,386.45) rotate(-45) scale(0.83,1)" class="xt">LICRSA</text>
<path d="M18.11 376.50h5.03" class="md"/>
<path d="M28.17 376.50h5.03" class="md"/>
<path d="M40.74 316.00V315.25M40.74 318.75V321.50" class="wk"/>
<path d="M39.48 315.25h2.51M39.48 321.50h2.51" class="cp"/>
<rect x="38.22" y="316.00" width="5.03" height="2.75" class="bx"/>
<path d="M38.22 317.25h5.03" class="md"/>
<path d="M39.64 323.10h2.2M40.74 322.00v2.2M39.64 324.60h2.2M40.74 323.50v2.2M39.64 326.10h2.2M40.74 325.00v2.2M39.64 327.50h2.2M40.74 326.40v2.2" class="ol"/>
<path d="M50.79 355.40V348.50M50.79 361.50V364.40" class="wk"/>
<path d="M49.53 348.50h2.51M49.53 364.40h2.51" class="cp"/>
<rect x="48.28" y="355.40" width="5.03" height="6.10" class="bx"/>
<path d="M48.28 359.40h5.03" class="md"/>
<path d="M49.69 344.75h2.2M50.79 343.65v2.2" class="ol"/>
<path d="M58.33 290.60h5.03" class="md"/>
<path d="M59.74 290.60h2.2M60.84 289.50v2.2" class="ol"/>
<path d="M70.90 306.25V303.50M70.90 308.50V310.25" class="wk"/>
<path d="M69.64 303.50h2.51M69.64 310.25h2.51" class="cp"/>
<rect x="68.38" y="306.25" width="5.03" height="2.25" class="bx"/>
<path d="M68.38 307.25h5.03" class="md"/>
<path d="M80.95 294.15V293.90M80.95 295.05V295.30" class="wk"/>
<path d="M79.70 293.90h2.51M79.70 295.30h2.51" class="cp"/>
<rect x="78.44" y="294.15" width="5.03" height="0.90" class="bx bxc"/>
<path d="M78.44 294.60h5.03" class="md"/>
<path d="M88.49 372.80h5.03" class="md"/>
<path d="M89.91 371.60h2.2M91.01 370.50v2.2M89.91 372.50h2.2M91.01 371.40v2.2M89.91 376.60h2.2M91.01 375.50v2.2" class="ol"/>
<path d="M101.06 373.10V371.90" class="wk"/>
<path d="M99.80 371.90h2.51M99.80 376.50h2.51" class="cp"/>
<rect x="98.55" y="373.10" width="5.03" height="3.40" class="bx"/>
<path d="M98.55 376.50h5.03" class="md"/>
<path d="M108.60 376.50h5.03" class="md"/>
<path d="M121.17 339.60V339.35M121.17 340.40V340.65" class="wk"/>
<path d="M119.91 339.35h2.51M119.91 340.65h2.51" class="cp"/>
<rect x="118.66" y="339.60" width="5.03" height="0.80" class="bx bxc"/>
<path d="M118.66 340.00h5.03" class="md"/>
<path d="M128.71 376.50h5.03" class="md"/>
<text transform="translate(76.25,283.10) scale(0.87,1)" class="ti">F10</text>
<text transform="translate(6.60,334.00) rotate(-89.95)" class="yl">log(fitness value)</text>
<text x="70.50" y="408.00" class="cap capsans">(j)</text>
<rect x="165.4" y="286.6" width="120.85" height="95.65" class="ax"/>
<path d="M170.44 382.25v-1.1M170.44 286.6v1.1M180.51 382.25v-1.1M180.51 286.6v1.1M190.58 382.25v-1.1M190.58 286.6v1.1M200.65 382.25v-1.1M200.65 286.6v1.1M210.72 382.25v-1.1M210.72 286.6v1.1M220.79 382.25v-1.1M220.79 286.6v1.1M230.86 382.25v-1.1M230.86 286.6v1.1M240.93 382.25v-1.1M240.93 286.6v1.1M251.00 382.25v-1.1M251.00 286.6v1.1M261.07 382.25v-1.1M261.07 286.6v1.1M271.14 382.25v-1.1M271.14 286.6v1.1M281.21 382.25v-1.1M281.21 286.6v1.1M165.4 377.50h1.1M286.25 377.50h-1.1M165.4 361.25h1.1M286.25 361.25h-1.1M165.4 345.00h1.1M286.25 345.00h-1.1M165.4 328.75h1.1M286.25 328.75h-1.1M165.4 312.50h1.1M286.25 312.50h-1.1M165.4 296.25h1.1M286.25 296.25h-1.1" class="tk"/>
<g transform="translate(164.00,0) scale(0.93,1) rotate(0.05)">
<text y="379.60" class="yt">0</text>
<text y="363.35" class="yt">10</text>
<text y="347.10" class="yt">20</text>
<text y="330.85" class="yt">30</text>
<text y="314.60" class="yt">40</text>
<text y="298.35" class="yt">50</text>
</g>
<text transform="translate(172.94,386.95) rotate(-45) scale(0.83,1)" class="xt">RSA</text>
<text transform="translate(183.01,386.95) rotate(-45) scale(0.83,1)" class="xt">AO</text>
<text transform="translate(193.08,386.95) rotate(-45) scale(0.83,1)" class="xt">AOA</text>
<text transform="translate(203.15,386.95) rotate(-45) scale(0.83,1)" class="xt">CSO</text>
<text transform="translate(213.22,386.95) rotate(-45) scale(0.83,1)" class="xt">DE</text>
<text transform="translate(223.29,386.95) rotate(-45) scale(0.83,1)" class="xt">DMO</text>
<text transform="translate(233.36,386.95) rotate(-45) scale(0.83,1)" class="xt">WSO</text>
<text transform="translate(243.43,386.95) rotate(-45) scale(0.83,1)" class="xt">WOA</text>
<text transform="translate(253.50,386.95) rotate(-45) scale(0.83,1)" class="xt">WHOA</text>
<text transform="translate(263.57,386.95) rotate(-45) scale(0.83,1)" class="xt">SOA</text>
<text transform="translate(273.64,386.95) rotate(-45) scale(0.83,1)" class="xt">GSA</text>
<text transform="translate(283.71,386.95) rotate(-45) scale(0.83,1)" class="xt">LICRSA</text>
<path d="M167.92 377.50h5.04" class="md"/>
<path d="M177.99 377.50h5.04" class="md"/>
<path d="M188.06 377.50h5.04" class="md"/>
<path d="M189.48 377.50h2.2M190.58 376.40v2.2" class="ol"/>
<path d="M200.65 376.85V376.65M200.65 377.65V377.85" class="wk"/>
<path d="M199.39 376.65h2.52M199.39 377.85h2.52" class="cp"/>
<rect x="198.13" y="376.85" width="5.04" height="0.80" class="bx bxc"/>
<path d="M198.13 377.25h5.04" class="md"/>
<path d="M199.55 376.40h2.2M200.65 375.30v2.2" class="ol"/>
<path d="M210.72 356.90V344.40M210.72 375.25V377.25" class="wk"/>
<path d="M209.46 344.40h2.52M209.46 377.25h2.52" class="cp"/>
<rect x="208.20" y="356.90" width="5.04" height="18.35" class="bx"/>
<path d="M208.20 369.75h5.04" class="md"/>
<path d="M209.62 291.00h2.2M210.72 289.90v2.2M209.62 303.10h2.2M210.72 302.00v2.2" class="ol"/>
<path d="M218.27 377.25h5.04" class="md"/>
<path d="M219.69 377.25h2.2M220.79 376.15v2.2M219.69 376.80h2.2M220.79 375.70v2.2" class="ol"/>
<path d="M228.34 376.20h5.04" class="md"/>
<path d="M229.76 374.60h2.2M230.86 373.50v2.2M229.76 375.40h2.2M230.86 374.30v2.2" class="ol"/>
<path d="M238.41 377.50h5.04" class="md"/>
<path d="M248.48 377.50h5.04" class="md"/>
<path d="M258.56 377.50h5.04" class="md"/>
<path d="M271.14 362.25V354.75M271.14 369.40V372.50" class="wk"/>
<path d="M269.88 354.75h2.52M269.88 372.50h2.52" class="cp"/>
<rect x="268.63" y="362.25" width="5.04" height="7.15" class="bx"/>
<path d="M268.63 366.25h5.04" class="md"/>
<path d="M278.70 377.50h5.04" class="md"/>
<text transform="translate(225.50,283.35) scale(0.87,1)" class="ti">F11</text>
<text transform="translate(157.60,334.43) rotate(-89.95)" class="yl">fitness value</text>
<text x="220.40" y="407.50" class="cap">(k)</text>
<rect x="314.4" y="285.6" width="121.85" height="95.65" class="ax"/>
<path d="M319.48 381.25v-1.1M319.48 285.6v1.1M329.63 381.25v-1.1M329.63 285.6v1.1M339.79 381.25v-1.1M339.79 285.6v1.1M349.94 381.25v-1.1M349.94 285.6v1.1M360.09 381.25v-1.1M360.09 285.6v1.1M370.25 381.25v-1.1M370.25 285.6v1.1M380.40 381.25v-1.1M380.40 285.6v1.1M390.56 381.25v-1.1M390.56 285.6v1.1M400.71 381.25v-1.1M400.71 285.6v1.1M410.86 381.25v-1.1M410.86 285.6v1.1M421.02 381.25v-1.1M421.02 285.6v1.1M431.17 381.25v-1.1M431.17 285.6v1.1M314.4 373.50h1.1M436.25 373.50h-1.1M314.4 361.16h1.1M436.25 361.16h-1.1M314.4 348.81h1.1M436.25 348.81h-1.1M314.4 336.47h1.1M436.25 336.47h-1.1M314.4 324.13h1.1M436.25 324.13h-1.1M314.4 311.79h1.1M436.25 311.79h-1.1M314.4 299.44h1.1M436.25 299.44h-1.1M314.4 287.10h1.1M436.25 287.10h-1.1" class="tk"/>
<g transform="translate(313.00,0) scale(0.93,1) rotate(0.05)">
<text y="375.60" class="yt">-25</text>
<text y="363.26" class="yt">-20</text>
<text y="350.91" class="yt">-15</text>
<text y="338.57" class="yt">-10</text>
<text y="326.23" class="yt">-5</text>
<text y="313.89" class="yt">0</text>
<text y="301.54" class="yt">5</text>
<text y="289.20" class="yt">10</text>
</g>
<text transform="translate(321.98,385.95) rotate(-45) scale(0.83,1)" class="xt">RSA</text>
<text transform="translate(332.13,385.95) rotate(-45) scale(0.83,1)" class="xt">AO</text>
<text transform="translate(342.29,385.95) rotate(-45) scale(0.83,1)" class="xt">AOA</text>
<text transform="translate(352.44,385.95) rotate(-45) scale(0.83,1)" class="xt">CSO</text>
<text transform="translate(362.59,385.95) rotate(-45) scale(0.83,1)" class="xt">DE</text>
<text transform="translate(372.75,385.95) rotate(-45) scale(0.83,1)" class="xt">DMO</text>
<text transform="translate(382.90,385.95) rotate(-45) scale(0.83,1)" class="xt">WSO</text>
<text transform="translate(393.06,385.95) rotate(-45) scale(0.83,1)" class="xt">WOA</text>
<text transform="translate(403.21,385.95) rotate(-45) scale(0.83,1)" class="xt">WHOA</text>
<text transform="translate(413.36,385.95) rotate(-45) scale(0.83,1)" class="xt">SOA</text>
<text transform="translate(423.52,385.95) rotate(-45) scale(0.83,1)" class="xt">GSA</text>
<text transform="translate(433.67,385.95) rotate(-45) scale(0.83,1)" class="xt">LICRSA</text>
<path d="M319.48 311.10V310.90M319.48 311.90V312.10" class="wk"/>
<path d="M318.21 310.90h2.54M318.21 312.10h2.54" class="cp"/>
<rect x="316.94" y="311.10" width="5.08" height="0.80" class="bx bxc"/>
<path d="M316.94 311.50h5.08" class="md"/>
<path d="M329.63 326.00V324.40M329.63 328.50V331.00" class="wk"/>
<path d="M328.36 324.40h2.54M328.36 331.00h2.54" class="cp"/>
<rect x="327.09" y="326.00" width="5.08" height="2.50" class="bx"/>
<path d="M327.09 327.25h5.08" class="md"/>
<path d="M337.25 312.25h5.08" class="md"/>
<path d="M349.94 370.25V367.50M349.94 374.40V376.90" class="wk"/>
<path d="M348.67 367.50h2.54M348.67 376.90h2.54" class="cp"/>
<rect x="347.40" y="370.25" width="5.08" height="4.15" class="bx"/>
<path d="M347.40 372.50h5.08" class="md"/>
<path d="M348.84 364.00h2.2M349.94 362.90v2.2M348.84 365.00h2.2M349.94 363.90v2.2" class="ol"/>
<path d="M360.09 294.00V292.60M360.09 296.50V298.75" class="wk"/>
<path d="M358.82 292.60h2.54M358.82 298.75h2.54" class="cp"/>
<rect x="357.56" y="294.00" width="5.08" height="2.50" class="bx"/>
<path d="M357.56 295.25h5.08" class="md"/>
<path d="M358.99 290.60h2.2M360.09 289.50v2.2M358.99 302.25h2.2M360.09 301.15v2.2" class="ol"/>
<path d="M370.25 308.50V308.20M370.25 309.50V309.80" class="wk"/>
<path d="M368.98 308.20h2.54M368.98 309.80h2.54" class="cp"/>
<rect x="367.71" y="308.50" width="5.08" height="1.00" class="bx bxc"/>
<path d="M367.71 309.00h5.08" class="md"/>
<path d="M380.40 311.10V310.80M380.40 311.90V312.20" class="wk"/>
<path d="M379.13 310.80h2.54M379.13 312.20h2.54" class="cp"/>
<rect x="377.86" y="311.10" width="5.08" height="0.80" class="bx bxc"/>
<path d="M377.86 311.50h5.08" class="md"/>
<path d="M379.30 309.40h2.2M380.40 308.30v2.2M379.30 313.50h2.2M380.40 312.40v2.2" class="ol"/>
<path d="M390.56 317.05V316.70M390.56 317.95V318.30" class="wk"/>
<path d="M389.29 316.70h2.54M389.29 318.30h2.54" class="cp"/>
<rect x="388.02" y="317.05" width="5.08" height="0.90" class="bx bxc"/>
<path d="M388.02 317.50h5.08" class="md"/>
<path d="M389.46 313.50h2.2M390.56 312.40v2.2M389.46 315.25h2.2M390.56 314.15v2.2" class="ol"/>
<path d="M400.71 333.10V330.25M400.71 339.40V343.00" class="wk"/>
<path d="M399.44 330.25h2.54M399.44 343.00h2.54" class="cp"/>
<rect x="398.17" y="333.10" width="5.08" height="6.30" class="bx"/>
<path d="M398.17 336.40h5.08" class="md"/>
<path d="M399.61 314.40h2.2M400.71 313.30v2.2" class="ol"/>
<path d="M410.86 313.10V312.10M410.86 315.25V317.50" class="wk"/>
<path d="M409.60 312.10h2.54M409.60 317.50h2.54" class="cp"/>
<rect x="408.33" y="313.10" width="5.08" height="2.15" class="bx bxc"/>
<path d="M408.33 314.10h5.08" class="md"/>
<path d="M421.02 314.00V311.50" class="wk"/>
<path d="M419.75 311.50h2.54M419.75 356.60h2.54" class="cp"/>
<rect x="418.48" y="314.00" width="5.08" height="42.60" class="bx"/>
<path d="M418.48 356.60h5.08" class="md"/>
<path d="M431.17 313.50V311.90M431.17 314.70V315.60" class="wk"/>
<path d="M429.90 311.90h2.54M429.90 315.60h2.54" class="cp"/>
<rect x="428.63" y="313.50" width="5.08" height="1.20" class="bx bxc"/>
<path d="M428.63 314.10h5.08" class="md"/>
<text transform="translate(375.10,282.70) scale(0.87,1)" class="ti">F12</text>
<text transform="translate(305.60,333.43) rotate(-89.95)" class="yl">log(fitness value)</text>
<text x="368.75" y="407.50" class="cap">(l)</text>
<rect x="16.25" y="422.9" width="120.25" height="95.20" class="ax"/>
<path d="M21.26 518.1v-1.1M21.26 422.9v1.1M31.28 518.1v-1.1M31.28 422.9v1.1M41.30 518.1v-1.1M41.30 422.9v1.1M51.32 518.1v-1.1M51.32 422.9v1.1M61.34 518.1v-1.1M61.34 422.9v1.1M71.36 518.1v-1.1M71.36 422.9v1.1M81.39 518.1v-1.1M81.39 422.9v1.1M91.41 518.1v-1.1M91.41 422.9v1.1M101.43 518.1v-1.1M101.43 422.9v1.1M111.45 518.1v-1.1M111.45 422.9v1.1M121.47 518.1v-1.1M121.47 422.9v1.1M131.49 518.1v-1.1M131.49 422.9v1.1M16.25 511.50h1.1M136.5 511.50h-1.1M16.25 500.62h1.1M136.5 500.62h-1.1M16.25 489.75h1.1M136.5 489.75h-1.1M16.25 478.88h1.1M136.5 478.88h-1.1M16.25 468.00h1.1M136.5 468.00h-1.1M16.25 457.12h1.1M136.5 457.12h-1.1M16.25 446.25h1.1M136.5 446.25h-1.1M16.25 435.38h1.1M136.5 435.38h-1.1M16.25 424.50h1.1M136.5 424.50h-1.1" class="tk"/>
<g transform="translate(14.85,0) scale(0.93,1) rotate(0.05)">
<text y="513.60" class="yt">-30</text>
<text y="502.73" class="yt">-25</text>
<text y="491.85" class="yt">-20</text>
<text y="480.98" class="yt">-15</text>
<text y="470.10" class="yt">-10</text>
<text y="459.23" class="yt">-5</text>
<text y="448.35" class="yt">0</text>
<text y="437.48" class="yt">5</text>
<text y="426.60" class="yt">10</text>
</g>
<text transform="translate(23.76,522.80) rotate(-45) scale(0.83,1)" class="xt">RSA</text>
<text transform="translate(33.78,522.80) rotate(-45) scale(0.83,1)" class="xt">AO</text>
<text transform="translate(43.80,522.80) rotate(-45) scale(0.83,1)" class="xt">AOA</text>
<text transform="translate(53.82,522.80) rotate(-45) scale(0.83,1)" class="xt">CSO</text>
<text transform="translate(63.84,522.80) rotate(-45) scale(0.83,1)" class="xt">DE</text>
<text transform="translate(73.86,522.80) rotate(-45) scale(0.83,1)" class="xt">DMO</text>
<text transform="translate(83.89,522.80) rotate(-45) scale(0.83,1)" class="xt">WSO</text>
<text transform="translate(93.91,522.80) rotate(-45) scale(0.83,1)" class="xt">WOA</text>
<text transform="translate(103.93,522.80) rotate(-45) scale(0.83,1)" class="xt">WHOA</text>
<text transform="translate(113.95,522.80) rotate(-45) scale(0.83,1)" class="xt">SOA</text>
<text transform="translate(123.97,522.80) rotate(-45) scale(0.83,1)" class="xt">GSA</text>
<text transform="translate(133.99,522.80) rotate(-45) scale(0.83,1)" class="xt">LICRSA</text>
<path d="M21.26 511.80V511.20M21.26 513.60V514.30" class="wk"/>
<path d="M20.01 511.20h2.51M20.01 514.30h2.51" class="cp"/>
<rect x="18.76" y="511.80" width="5.01" height="1.80" class="bx bxc"/>
<path d="M18.76 512.60h5.01" class="md"/>
<path d="M20.16 445.30h2.2M21.26 444.20v2.2M20.16 446.10h2.2M21.26 445.00v2.2M20.16 446.90h2.2M21.26 445.80v2.2" class="ol"/>
<path d="M31.28 456.90V455.60M31.28 459.10V460.60" class="wk"/>
<path d="M30.03 455.60h2.51M30.03 460.60h2.51" class="cp"/>
<rect x="28.78" y="456.90" width="5.01" height="2.20" class="bx"/>
<path d="M28.78 457.90h5.01" class="md"/>
<path d="M30.18 462.50h2.2M31.28 461.40v2.2M30.18 463.50h2.2M31.28 462.40v2.2" class="ol"/>
<path d="M38.80 445.00h5.01" class="md"/>
<path d="M40.20 445.00h2.2M41.30 443.90v2.2" class="ol"/>
<path d="M51.32 496.25V491.50M51.32 498.50V501.25" class="wk"/>
<path d="M50.07 491.50h2.51M50.07 501.25h2.51" class="cp"/>
<rect x="48.82" y="496.25" width="5.01" height="2.25" class="bx"/>
<path d="M48.82 497.50h5.01" class="md"/>
<path d="M50.22 488.40h2.2M51.32 487.30v2.2" class="ol"/>
<path d="M61.34 429.40V427.50M61.34 431.50V432.30" class="wk"/>
<path d="M60.09 427.50h2.51M60.09 432.30h2.51" class="cp"/>
<rect x="58.84" y="429.40" width="5.01" height="2.10" class="bx bxc"/>
<path d="M58.84 430.40h5.01" class="md"/>
<path d="M60.24 434.00h2.2M61.34 432.90v2.2" class="ol"/>
<path d="M71.36 442.65V442.40M71.36 443.55V443.80" class="wk"/>
<path d="M70.11 442.40h2.51M70.11 443.80h2.51" class="cp"/>
<rect x="68.86" y="442.65" width="5.01" height="0.90" class="bx bxc"/>
<path d="M68.86 443.10h5.01" class="md"/>
<path d="M70.26 444.00h2.2M71.36 442.90v2.2" class="ol"/>
<path d="M81.39 443.05V442.80M81.39 443.95V444.20" class="wk"/>
<path d="M80.13 442.80h2.51M80.13 444.20h2.51" class="cp"/>
<rect x="78.88" y="443.05" width="5.01" height="0.90" class="bx bxc"/>
<path d="M78.88 443.50h5.01" class="md"/>
<path d="M91.41 447.00V446.50M91.41 448.00V449.40" class="wk"/>
<path d="M90.15 446.50h2.51M90.15 449.40h2.51" class="cp"/>
<rect x="88.90" y="447.00" width="5.01" height="1.00" class="bx bxc"/>
<path d="M88.90 447.50h5.01" class="md"/>
<path d="M101.43 450.25V446.50M101.43 465.40V467.75" class="wk"/>
<path d="M100.17 446.50h2.51M100.17 467.75h2.51" class="cp"/>
<rect x="98.92" y="450.25" width="5.01" height="15.15" class="bx"/>
<path d="M98.92 450.25h5.01" class="md"/>
<path d="M111.45 445.80V445.55M111.45 446.70V446.95" class="wk"/>
<path d="M110.20 445.55h2.51M110.20 446.95h2.51" class="cp"/>
<rect x="108.94" y="445.80" width="5.01" height="0.90" class="bx bxc"/>
<path d="M108.94 446.25h5.01" class="md"/>
<path d="M110.35 447.75h2.2M111.45 446.65v2.2" class="ol"/>
<path d="M121.47 448.40V445.60" class="wk"/>
<path d="M120.22 445.60h2.51M120.22 482.90h2.51" class="cp"/>
<rect x="118.96" y="448.40" width="5.01" height="34.50" class="bx"/>
<path d="M118.96 482.90h5.01" class="md"/>
<path d="M131.49 511.90V511.30M131.49 514.00V514.30" class="wk"/>
<path d="M130.24 511.30h2.51M130.24 514.30h2.51" class="cp"/>
<rect x="128.98" y="511.90" width="5.01" height="2.10" class="bx bxc"/>
<path d="M128.98 512.50h5.01" class="md"/>
<text transform="translate(76.90,419.60) scale(0.87,1)" class="ti">F13</text>
<text transform="translate(7.80,470.50) rotate(-89.95)" class="yl">log(fitness value)</text>
<text x="69.90" y="543.50" class="cap">(m)</text>
<rect x="165.4" y="425.4" width="121.35" height="93.35" class="ax"/>
<path d="M170.46 518.75v-1.1M170.46 425.4v1.1M180.57 518.75v-1.1M180.57 425.4v1.1M190.68 518.75v-1.1M190.68 425.4v1.1M200.79 518.75v-1.1M200.79 425.4v1.1M210.91 518.75v-1.1M210.91 425.4v1.1M221.02 518.75v-1.1M221.02 425.4v1.1M231.13 518.75v-1.1M231.13 425.4v1.1M241.24 518.75v-1.1M241.24 425.4v1.1M251.36 518.75v-1.1M251.36 425.4v1.1M261.47 518.75v-1.1M261.47 425.4v1.1M271.58 518.75v-1.1M271.58 425.4v1.1M281.69 518.75v-1.1M281.69 425.4v1.1M165.4 511.50h1.1M286.75 511.50h-1.1M165.4 503.20h1.1M286.75 503.20h-1.1M165.4 494.90h1.1M286.75 494.90h-1.1M165.4 486.60h1.1M286.75 486.60h-1.1M165.4 478.30h1.1M286.75 478.30h-1.1M165.4 470.00h1.1M286.75 470.00h-1.1M165.4 461.70h1.1M286.75 461.70h-1.1M165.4 453.40h1.1M286.75 453.40h-1.1M165.4 445.10h1.1M286.75 445.10h-1.1M165.4 436.80h1.1M286.75 436.80h-1.1M165.4 428.50h1.1M286.75 428.50h-1.1" class="tk"/>
<g transform="translate(164.00,0) scale(0.93,1) rotate(0.05)">
<text y="513.60" class="yt">0</text>
<text y="505.30" class="yt">2</text>
<text y="497.00" class="yt">4</text>
<text y="488.70" class="yt">6</text>
<text y="480.40" class="yt">8</text>
<text y="472.10" class="yt">10</text>
<text y="463.80" class="yt">12</text>
<text y="455.50" class="yt">14</text>
<text y="447.20" class="yt">16</text>
<text y="438.90" class="yt">18</text>
<text y="430.60" class="yt">20</text>
</g>
<text transform="translate(172.96,523.45) rotate(-45) scale(0.83,1)" class="xt">RSA</text>
<text transform="translate(183.07,523.45) rotate(-45) scale(0.83,1)" class="xt">AO</text>
<text transform="translate(193.18,523.45) rotate(-45) scale(0.83,1)" class="xt">AOA</text>
<text transform="translate(203.29,523.45) rotate(-45) scale(0.83,1)" class="xt">CSO</text>
<text transform="translate(213.41,523.45) rotate(-45) scale(0.83,1)" class="xt">DE</text>
<text transform="translate(223.52,523.45) rotate(-45) scale(0.83,1)" class="xt">DMO</text>
<text transform="translate(233.63,523.45) rotate(-45) scale(0.83,1)" class="xt">WSO</text>
<text transform="translate(243.74,523.45) rotate(-45) scale(0.83,1)" class="xt">WOA</text>
<text transform="translate(253.86,523.45) rotate(-45) scale(0.83,1)" class="xt">WHOA</text>
<text transform="translate(263.97,523.45) rotate(-45) scale(0.83,1)" class="xt">SOA</text>
<text transform="translate(274.08,523.45) rotate(-45) scale(0.83,1)" class="xt">GSA</text>
<text transform="translate(284.19,523.45) rotate(-45) scale(0.83,1)" class="xt">LICRSA</text>
<path d="M170.46 498.75V494.60M170.46 502.50V506.00" class="wk"/>
<path d="M169.19 494.60h2.53M169.19 506.00h2.53" class="cp"/>
<rect x="167.93" y="498.75" width="5.06" height="3.75" class="bx"/>
<path d="M167.93 498.75h5.06" class="md"/>
<path d="M169.36 458.50h2.2M170.46 457.40v2.2M169.36 466.50h2.2M170.46 465.40v2.2" class="ol"/>
<path d="M179.30 498.75h2.53M179.30 507.50h2.53" class="cp"/>
<rect x="178.04" y="498.75" width="5.06" height="8.75" class="bx"/>
<path d="M178.04 498.75h5.06" class="md"/>
<path d="M179.47 458.50h2.2M180.57 457.40v2.2M179.47 466.50h2.2M180.57 465.40v2.2" class="ol"/>
<path d="M189.42 458.40h2.53M189.42 466.50h2.53" class="cp"/>
<rect x="188.15" y="458.40" width="5.06" height="8.10" class="bx"/>
<path d="M188.15 458.40h5.06" class="md"/>
<path d="M189.58 478.10h2.2M190.68 477.00v2.2M189.58 498.75h2.2M190.68 497.65v2.2M189.58 502.90h2.2M190.68 501.80v2.2M189.58 507.25h2.2M190.68 506.15v2.2" class="ol"/>
<path d="M199.53 505.60h2.53M199.53 507.50h2.53" class="cp"/>
<rect x="198.27" y="505.60" width="5.06" height="1.90" class="bx bxc"/>
<path d="M198.27 507.50h5.06" class="md"/>
<path d="M199.69 458.50h2.2M200.79 457.40v2.2M199.69 482.50h2.2M200.79 481.40v2.2M199.69 486.60h2.2M200.79 485.50v2.2M199.69 490.60h2.2M200.79 489.50v2.2M199.69 496.50h2.2M200.79 495.40v2.2" class="ol"/>
<path d="M210.91 486.25V462.50M210.91 503.10V506.25" class="wk"/>
<path d="M209.64 462.50h2.53M209.64 506.25h2.53" class="cp"/>
<rect x="208.38" y="486.25" width="5.06" height="16.85" class="bx"/>
<path d="M208.38 498.50h5.06" class="md"/>
<path d="M209.81 429.75h2.2M210.91 428.65v2.2M209.81 442.90h2.2M210.91 441.80v2.2M209.81 446.90h2.2M210.91 445.80v2.2" class="ol"/>
<path d="M218.49 507.25h5.06" class="md"/>
<path d="M228.60 507.25h5.06" class="md"/>
<path d="M239.98 498.75h2.53M239.98 507.50h2.53" class="cp"/>
<rect x="238.72" y="498.75" width="5.06" height="8.75" class="bx"/>
<path d="M238.72 507.50h5.06" class="md"/>
<path d="M240.14 466.50h2.2M241.24 465.40v2.2" class="ol"/>
<path d="M251.36 503.10V498.75" class="wk"/>
<path d="M250.09 498.75h2.53M250.09 507.50h2.53" class="cp"/>
<rect x="248.83" y="503.10" width="5.06" height="4.40" class="bx"/>
<path d="M248.83 507.50h5.06" class="md"/>
<path d="M250.26 486.50h2.2M251.36 485.40v2.2M250.26 466.50h2.2M251.36 465.40v2.2" class="ol"/>
<path d="M261.47 466.50V458.40M261.47 503.10V507.25" class="wk"/>
<path d="M260.20 458.40h2.53M260.20 507.25h2.53" class="cp"/>
<rect x="258.94" y="466.50" width="5.06" height="36.60" class="bx"/>
<path d="M258.94 498.75h5.06" class="md"/>
<path d="M271.58 494.60V484.60M271.58 503.10V507.25" class="wk"/>
<path d="M270.32 484.60h2.53M270.32 507.25h2.53" class="cp"/>
<rect x="269.05" y="494.60" width="5.06" height="8.50" class="bx"/>
<path d="M269.05 501.50h5.06" class="md"/>
<path d="M270.48 470.60h2.2M271.58 469.50v2.2M270.48 477.50h2.2M271.58 476.40v2.2" class="ol"/>
<path d="M280.43 466.50h2.53M280.43 507.50h2.53" class="cp"/>
<rect x="279.17" y="466.50" width="5.06" height="41.00" class="bx"/>
<path d="M279.17 503.10h5.06" class="md"/>
<text transform="translate(226.25,422.10) scale(0.87,1)" class="ti">F14</text>
<text transform="translate(157.40,472.07) rotate(-89.95)" class="yl">fitness value</text>
<text x="220.35" y="543.50" class="cap">(n)</text>
<rect x="315.4" y="422.5" width="119.60" height="95.25" class="ax"/>
<path d="M320.38 517.75v-1.1M320.38 422.5v1.1M330.35 517.75v-1.1M330.35 422.5v1.1M340.32 517.75v-1.1M340.32 422.5v1.1M350.28 517.75v-1.1M350.28 422.5v1.1M360.25 517.75v-1.1M360.25 422.5v1.1M370.22 517.75v-1.1M370.22 422.5v1.1M380.18 517.75v-1.1M380.18 422.5v1.1M390.15 517.75v-1.1M390.15 422.5v1.1M400.12 517.75v-1.1M400.12 422.5v1.1M410.08 517.75v-1.1M410.08 422.5v1.1M420.05 517.75v-1.1M420.05 422.5v1.1M430.02 517.75v-1.1M430.02 422.5v1.1M315.4 505.50h1.1M435.0 505.50h-1.1M315.4 489.90h1.1M435.0 489.90h-1.1M315.4 474.30h1.1M435.0 474.30h-1.1M315.4 458.70h1.1M435.0 458.70h-1.1M315.4 443.10h1.1M435.0 443.10h-1.1M315.4 427.50h1.1M435.0 427.50h-1.1" class="tk"/>
<g transform="translate(314.00,0) scale(0.93,1) rotate(0.05)">
<text y="507.60" class="yt">-3.5</text>
<text y="492.00" class="yt">-3</text>
<text y="476.40" class="yt">-2.5</text>
<text y="460.80" class="yt">-2</text>
<text y="445.20" class="yt">-1.5</text>
<text y="429.60" class="yt">-1</text>
</g>
<text transform="translate(322.88,522.45) rotate(-45) scale(0.83,1)" class="xt">RSA</text>
<text transform="translate(332.85,522.45) rotate(-45) scale(0.83,1)" class="xt">AO</text>
<text transform="translate(342.82,522.45) rotate(-45) scale(0.83,1)" class="xt">AOA</text>
<text transform="translate(352.78,522.45) rotate(-45) scale(0.83,1)" class="xt">CSO</text>
<text transform="translate(362.75,522.45) rotate(-45) scale(0.83,1)" class="xt">DE</text>
<text transform="translate(372.72,522.45) rotate(-45) scale(0.83,1)" class="xt">DMO</text>
<text transform="translate(382.68,522.45) rotate(-45) scale(0.83,1)" class="xt">WSO</text>
<text transform="translate(392.65,522.45) rotate(-45) scale(0.83,1)" class="xt">WOA</text>
<text transform="translate(402.62,522.45) rotate(-45) scale(0.83,1)" class="xt">WHOA</text>
<text transform="translate(412.58,522.45) rotate(-45) scale(0.83,1)" class="xt">SOA</text>
<text transform="translate(422.55,522.45) rotate(-45) scale(0.83,1)" class="xt">GSA</text>
<text transform="translate(432.52,522.45) rotate(-45) scale(0.83,1)" class="xt">LICRSA</text>
<path d="M320.38 486.25V477.10M320.38 492.50V501.25" class="wk"/>
<path d="M319.14 477.10h2.49M319.14 501.25h2.49" class="cp"/>
<rect x="317.89" y="486.25" width="4.98" height="6.25" class="bx"/>
<path d="M317.89 489.40h4.98" class="md"/>
<path d="M330.35 499.10V495.40M330.35 503.10V505.25" class="wk"/>
<path d="M329.10 495.40h2.49M329.10 505.25h2.49" class="cp"/>
<rect x="327.86" y="499.10" width="4.98" height="4.00" class="bx"/>
<path d="M327.86 501.25h4.98" class="md"/>
<path d="M340.32 477.25V446.25" class="wk"/>
<path d="M339.07 446.25h2.49M339.07 505.60h2.49" class="cp"/>
<rect x="337.82" y="477.25" width="4.98" height="28.35" class="bx"/>
<path d="M337.82 505.60h4.98" class="md"/>
<path d="M339.22 426.60h2.2M340.32 425.50v2.2" class="ol"/>
<path d="M350.28 482.90V477.50M350.28 499.40V505.25" class="wk"/>
<path d="M349.04 477.50h2.49M349.04 505.25h2.49" class="cp"/>
<rect x="347.79" y="482.90" width="4.98" height="16.50" class="bx"/>
<path d="M347.79 492.25h4.98" class="md"/>
<path d="M349.18 445.60h2.2M350.28 444.50v2.2M349.18 449.40h2.2M350.28 448.30v2.2M349.18 451.25h2.2M350.28 450.15v2.2" class="ol"/>
<path d="M360.25 449.10V447.75M360.25 493.50V505.25" class="wk"/>
<path d="M359.00 447.75h2.49M359.00 505.25h2.49" class="cp"/>
<rect x="357.76" y="449.10" width="4.98" height="44.40" class="bx"/>
<path d="M357.76 484.10h4.98" class="md"/>
<path d="M370.22 488.60V488.30M370.22 489.60V489.90" class="wk"/>
<path d="M368.97 488.30h2.49M368.97 489.90h2.49" class="cp"/>
<rect x="367.72" y="488.60" width="4.98" height="1.00" class="bx bxc"/>
<path d="M367.72 489.10h4.98" class="md"/>
<path d="M369.12 491.90h2.2M370.22 490.80v2.2M369.12 493.50h2.2M370.22 492.40v2.2M369.12 495.00h2.2M370.22 493.90v2.2M369.12 499.40h2.2M370.22 498.30v2.2" class="ol"/>
<path d="M377.69 505.40h4.98" class="md"/>
<path d="M390.15 494.40V484.60M390.15 504.75V505.40" class="wk"/>
<path d="M388.90 484.60h2.49M388.90 505.40h2.49" class="cp"/>
<rect x="387.66" y="494.40" width="4.98" height="10.35" class="bx"/>
<path d="M387.66 499.75h4.98" class="md"/>
<path d="M400.12 487.25V483.10" class="wk"/>
<path d="M398.87 483.10h2.49M398.87 505.60h2.49" class="cp"/>
<rect x="397.62" y="487.25" width="4.98" height="18.35" class="bx"/>
<path d="M397.62 505.60h4.98" class="md"/>
<path d="M399.02 449.40h2.2M400.12 448.30v2.2" class="ol"/>
<path d="M410.08 475.40V466.90M410.08 491.25V503.75" class="wk"/>
<path d="M408.84 466.90h2.49M408.84 503.75h2.49" class="cp"/>
<rect x="407.59" y="475.40" width="4.98" height="15.85" class="bx"/>
<path d="M407.59 480.60h4.98" class="md"/>
<path d="M420.05 477.90V477.50M420.05 480.25V481.00" class="wk"/>
<path d="M418.80 477.50h2.49M418.80 481.00h2.49" class="cp"/>
<rect x="417.56" y="477.90" width="4.98" height="2.35" class="bx"/>
<path d="M417.56 479.10h4.98" class="md"/>
<path d="M418.95 457.25h2.2M420.05 456.15v2.2M418.95 463.50h2.2M420.05 462.40v2.2M418.95 470.90h2.2M420.05 469.80v2.2M418.95 483.75h2.2M420.05 482.65v2.2M418.95 484.75h2.2M420.05 483.65v2.2" class="ol"/>
<path d="M430.02 504.60V504.40" class="wk"/>
<path d="M428.77 504.40h2.49M428.77 505.60h2.49" class="cp"/>
<rect x="427.52" y="504.60" width="4.98" height="1.00" class="bx bxc"/>
<path d="M427.52 505.25h4.98" class="md"/>
<path d="M428.92 483.50h2.2M430.02 482.40v2.2M428.92 487.25h2.2M430.02 486.15v2.2M428.92 496.25h2.2M430.02 495.15v2.2M428.92 497.75h2.2M430.02 496.65v2.2M428.92 499.40h2.2M430.02 498.30v2.2M428.92 502.10h2.2M430.02 501.00v2.2" class="ol"/>
<text transform="translate(375.00,419.20) scale(0.87,1)" class="ti">F15</text>
<text transform="translate(305.50,470.12) rotate(-89.95)" class="yl">log(fitness value)</text>
<text x="368.50" y="543.50" class="cap">(o)</text>
</svg></body></html>
